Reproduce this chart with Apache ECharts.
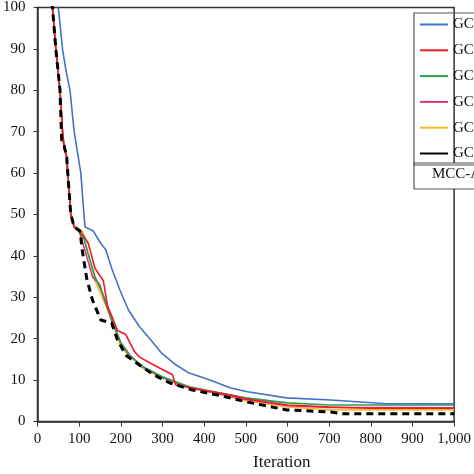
<!DOCTYPE html>
<html><head><meta charset="utf-8">
<script src="https://cdn.jsdelivr.net/npm/echarts@6/dist/echarts.min.js"></script>
<style>html,body{margin:0;padding:0;background:#fff;overflow:hidden}#c{width:474px;height:474px}</style>
</head><body><div id="c"></div>
<script>
const names = ['GCC-1','GCC-2','GCC-3','GCC-4','GCC-5','GCC-6'];
const xTicks = [0,100,200,300,400,500,600,700,800,900,1000];
const blue = [[0,130],[45,110],[50,100],[60,90],[68,85],[78,80],[88,70],[96,65],[104,60],[110,52],[114,47],[134,46],[152,43],[164,41.5],[178,37],[198,31.7],[218,27],[244,23],[272,19.7],[298,16.5],[332,13.7],[364,11.7],[412,10.1],[464,8.1],[504,7.2],[598,5.7],[704,5.2],[838,4.3],[1000,4.3]];
const red = [[0,130],[30,110],[36,100],[44,90],[54,80],[60,70],[64,66],[70,64],[74,58],[80,50],[88,47],[100,46],[110,45],[122,43],[138,37],[158,34],[168,28],[192,22],[212,21],[232,17],[244,15.6],[278,13.7],[324,11.3],[332,8.8],[398,7.6],[464,6.4],[500,5.5],[600,4.0],[700,3.5],[800,3.2],[1000,3.2]];
const green = [[0,130],[30,110],[36,100],[44,90],[54,80],[60,70],[64,66],[70,64],[74,58],[80,50],[88,47],[100,46],[112,44],[120,41],[138,35],[160,30],[180,24],[200,19],[220,16],[252,13.3],[300,10.8],[364,8.4],[432,7.0],[500,5.7],[600,4.5],[700,4.0],[1000,4.0]];
const magenta = [[0,130],[30,110],[36,100],[44,90],[54,80],[60,70],[64,66],[70,64],[74,58],[80,50],[88,47],[100,46],[112,42],[132,35],[150,33],[162,29],[180,24],[200,19],[222,16],[252,13.2],[300,10.6],[364,8.2],[432,6.8],[500,5.3],[600,3.8],[700,3.4],[1000,3.3]];
const yellow = [[0,130],[30,110],[36,100],[44,90],[54,80],[60,70],[64,66],[70,64],[74,58],[80,50],[88,47],[108,46],[118,42],[138,34],[164,28],[184,23],[198,18.5],[218,16],[252,13],[298,10.5],[364,8.1],[432,6.7],[498,5],[600,3.5],[700,2.8],[1000,2.8]];
const black = [[0,130],[30,110],[36,100],[44,90],[54,80],[58,68],[64,66.6],[70,64],[74,58],[80,50],[88,47],[102,46],[108,41],[118,34.6],[132,29.3],[152,24.5],[178,23.8],[192,19.7],[212,16],[244,13.7],[278,11.3],[318,9.3],[372,7.6],[432,6.4],[504,4.7],[598,2.8],[704,2.3],[730,1.9],[1000,1.9]];
const colors = ['#4472C4','#ED1C24','#2E9E55','#D6338A','#F5BE2A','#000000'];
const datas = [blue, red, green, magenta, yellow, black];
const font = 'Liberation Serif, DejaVu Serif, serif';
const chart = echarts.init(document.getElementById('c'));
chart.setOption({
  animation:false,
  grid:{left:18,width:501,top:6.5,height:415,show:true,borderColor:'#333',borderWidth:1.5},
  legend:{orient:'vertical',left:414,top:13,itemWidth:28,itemHeight:14,itemGap:10.8,padding:[4,30,4,6],
    icon:'path://M0,6 L28,6 L28,8 L0,8 Z',
    borderColor:'#555',borderWidth:1.2,textStyle:{fontFamily:font,fontSize:15,color:'#111'},data:names},
  xAxis:{type:'value',min:0,max:1000,interval:100,
    axisLine:{lineStyle:{color:'#333',width:1.5}},axisTick:{show:true,length:5,lineStyle:{color:'#333'}},
    splitLine:{show:false},axisLabel:{fontFamily:font,fontSize:15,color:'#111',margin:10}},
  yAxis:{type:'value',min:0,max:100,interval:10,
    axisLine:{show:true,lineStyle:{color:'#333',width:1.5}},axisTick:{show:true,length:4,lineStyle:{color:'#333'}},
    splitLine:{show:false},axisLabel:{fontFamily:font,fontSize:15,color:'#111',margin:12}},
  graphic:[
    {type:'rect',shape:{x:414,y:163,width:80,height:26},style:{fill:'#fff',stroke:'#555',lineWidth:1.2}},
    {type:'text',left:432,top:167,style:{text:'MCC-A',font:'15px '+font,fill:'#111'}},
    {type:'text',left:253,top:454,style:{text:'Iteration',font:'17px '+font,fill:'#111'}}
  ],
  series: names.map((n,i)=>({name:n,type:'line',data:datas[i],symbol:'none',clip:true,
    lineStyle:{color:colors[i],width:i===5?3:1.6,type:i===5?[7,5]:'solid'},itemStyle:{color:colors[i]},z:i===5?10:(5-i)}))
});
</script></body></html>
